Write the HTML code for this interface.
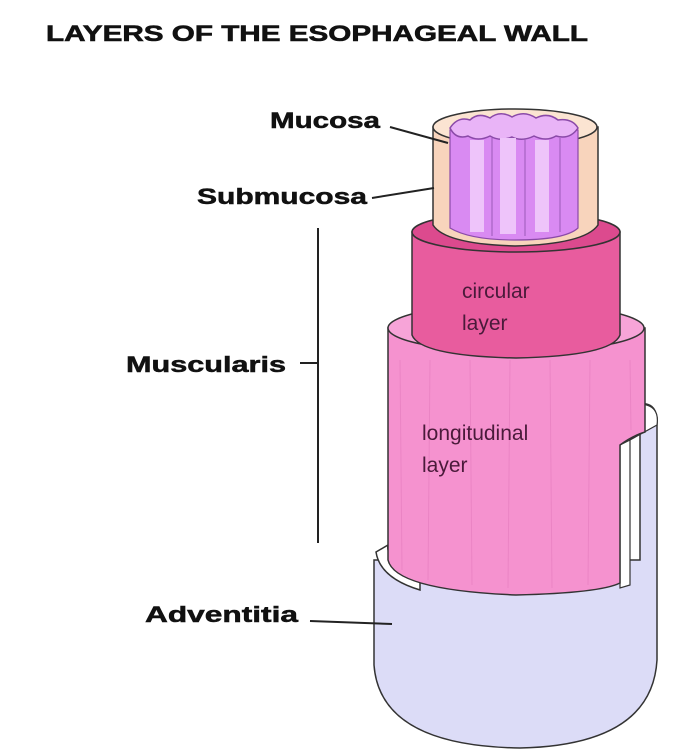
<!DOCTYPE html><html><head><style>body{margin:0;background:#fff}svg{display:block}</style></head><body>
<svg width="680" height="751" viewBox="0 0 680 751" xmlns="http://www.w3.org/2000/svg" font-family="Liberation Sans, sans-serif">
<text x="46" y="41" font-size="22" font-weight="bold" textLength="542" lengthAdjust="spacingAndGlyphs" fill="#111" stroke="#111" stroke-width="0.6">LAYERS OF THE ESOPHAGEAL WALL</text>
<g font-size="22" font-weight="bold" fill="#111" stroke="#111" stroke-width="0.5">
<text x="270" y="128" textLength="110" lengthAdjust="spacingAndGlyphs">Mucosa</text>
<text x="197" y="204" textLength="170" lengthAdjust="spacingAndGlyphs">Submucosa</text>
<text x="126" y="372" textLength="160" lengthAdjust="spacingAndGlyphs">Muscularis</text>
<text x="145" y="622" textLength="153" lengthAdjust="spacingAndGlyphs">Adventitia</text>
</g>
<!-- adventitia -->
<path d="M374,560 L374,665 Q380,746 520,748 Q652,745 657,660 L657,418 Q655,402 640,404 L640,560 Z" fill="#dcdcf7" stroke="#333" stroke-width="1.5"/>
<path d="M376,552 Q380,578 420,590 L420,565 Q385,560 388,545 Z" fill="#fff" stroke="#333" stroke-width="1.5"/>
<path d="M620,445 L630,440 L630,585 L620,588 Z" fill="#fff" stroke="#333" stroke-width="1.2"/>
<path d="M640,404 Q660,405 657,425 L630,440 L640,430 Z" fill="#fff" stroke="#333" stroke-width="1.2"/>
<!-- longitudinal -->
<path d="M388,328 L388,560 Q395,590 516,595 Q600,593 620,583 L620,445 Q632,436 645,432 L645,328 Z" fill="#f592cf" stroke="#333" stroke-width="1.5"/>
<ellipse cx="516" cy="328" rx="128" ry="24" fill="#f7a4d8" stroke="#333" stroke-width="1.5"/>
<g stroke="#e47bbd" stroke-width="1" opacity="0.6">
<line x1="400" y1="360" x2="402" y2="570"/><line x1="430" y1="360" x2="428" y2="580"/><line x1="470" y1="360" x2="472" y2="585"/><line x1="510" y1="360" x2="508" y2="588"/><line x1="550" y1="360" x2="552" y2="588"/><line x1="590" y1="360" x2="588" y2="585"/><line x1="630" y1="360" x2="631" y2="430"/>
</g>
<!-- circular -->
<path d="M412,232 L412,335 Q420,356 516,358 Q612,356 620,335 L620,232 Z" fill="#e85c9e" stroke="#333" stroke-width="1.5"/>
<ellipse cx="516" cy="232" rx="104" ry="20" fill="#dc4a8e" stroke="#333" stroke-width="1.5"/>
<!-- submucosa -->
<path d="M433,127 L433,225 Q445,244 515,246 Q585,244 598,225 L598,127 Z" fill="#f8d4bc" stroke="#333" stroke-width="1.5"/>
<ellipse cx="515" cy="127" rx="82" ry="18" fill="#fbe4d2" stroke="#333" stroke-width="1.5"/>
<!-- mucosa -->
<path d="M450,130 L450,228 Q470,240 515,240 Q565,240 578,228 L578,130 Z" fill="#d98af2" stroke="#8a4aa8" stroke-width="1.2"/>
<path d="M450,128 Q458,116 470,120 Q478,112 490,118 Q500,110 512,117 Q524,110 536,118 Q548,112 558,120 Q572,118 578,128 Q570,140 556,136 Q546,142 534,136 Q522,142 512,137 Q500,142 490,136 Q478,142 468,136 Q456,140 450,128 Z" fill="#e9b4f7" stroke="#8a4aa8" stroke-width="1.5"/>
<g fill="#eec4fa"><rect x="470" y="140" width="14" height="92"/><rect x="500" y="138" width="16" height="96"/><rect x="535" y="140" width="14" height="92"/></g>
<g stroke="#9a5ab8" stroke-width="1" fill="none"><line x1="492" y1="138" x2="492" y2="236"/><line x1="525" y1="138" x2="525" y2="236"/><line x1="560" y1="138" x2="560" y2="232"/></g>
<g font-size="21" fill="#4a1a3a">
<text x="462" y="298">circular</text><text x="462" y="330">layer</text>
<text x="422" y="440">longitudinal</text><text x="422" y="472">layer</text>
</g>
<g stroke="#222" stroke-width="2" fill="none">
<line x1="318" y1="228" x2="318" y2="543"/>
<line x1="300" y1="363" x2="318" y2="363"/>
<line x1="390" y1="127" x2="448" y2="143"/>
<line x1="372" y1="198" x2="434" y2="188"/>
<line x1="310" y1="621" x2="392" y2="624"/>
</g>
</svg>
</body></html>
